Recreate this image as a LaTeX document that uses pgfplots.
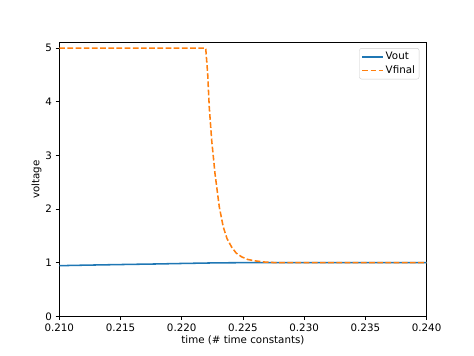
\documentclass[border=0pt]{standalone}
\usepackage{pgfplots}
\pgfplotsset{compat=1.18}
\usepackage{fontspec}
\setmainfont{DejaVu Sans}
\definecolor{tabblue}{HTML}{1F77B4}
\definecolor{taborange}{HTML}{FF7F0E}
\begin{document}
\begin{tikzpicture}
\path[use as bounding box] (-57.6pt,-38.016pt) rectangle (403.2pt,307.584pt);
\begin{axis}[
  at={(0pt,0pt)}, anchor=south west,
  scale only axis,
  width=357.12pt, height=266.11pt,
  xmin=0.210, xmax=0.240, ymin=0, ymax=5.1,
  xtick={0.210,0.215,0.220,0.225,0.230,0.235,0.240},
  xticklabels={0.210,0.215,0.220,0.225,0.230,0.235,0.240},
  ytick={0,1,2,3,4,5},
  scaled x ticks=false,
  /pgf/number format/assume math mode=true,
  tick align=outside, xtick pos=left, ytick pos=left,
  major tick length=3.5pt,
  tick style={black, line width=0.8pt},
  axis line style={line width=0.8pt},
  tick label style={font=\fontsize{10}{12}\selectfont},
  label style={font=\fontsize{10}{12}\selectfont},
  xlabel={time (\# time constants)}, ylabel={voltage},
  xlabel style={yshift=3pt}, ylabel style={yshift=-3pt},
  legend style={at={(0.98,0.98)}, anchor=north east, draw=black!20, rounded corners=2pt,
    font=\fontsize{10}{12}\selectfont, inner sep=2pt, row sep=0pt},
  legend cell align=left,
  legend image code/.code={\draw[#1] (0pt,0pt) -- (20pt,0pt);},
]
\addplot[color=tabblue, line width=1.5pt] coordinates {
(0.210,0.945) (0.212,0.954) (0.214,0.962) (0.216,0.970) (0.218,0.977) (0.220,0.986) (0.222,0.994) (0.223,0.998) (0.2245,1.0) (0.240,1.0)};
\addlegendentry{Vout}
\addplot[color=taborange, line width=1.5pt, dash pattern=on 5.55pt off 2.4pt] coordinates {
(0.210,5.0) (0.22196,5.0) (0.22212,4.53) (0.22225,3.90) (0.22245,3.28) (0.22272,2.66) (0.22307,2.04) (0.22339,1.67) (0.22370,1.45) (0.22408,1.29) (0.22445,1.18) (0.22489,1.11) (0.22540,1.06) (0.22598,1.035) (0.22680,1.012) (0.22780,1.0) (0.240,1.0)};
\addlegendentry{Vfinal}
\end{axis}
\end{tikzpicture}
\end{document}
